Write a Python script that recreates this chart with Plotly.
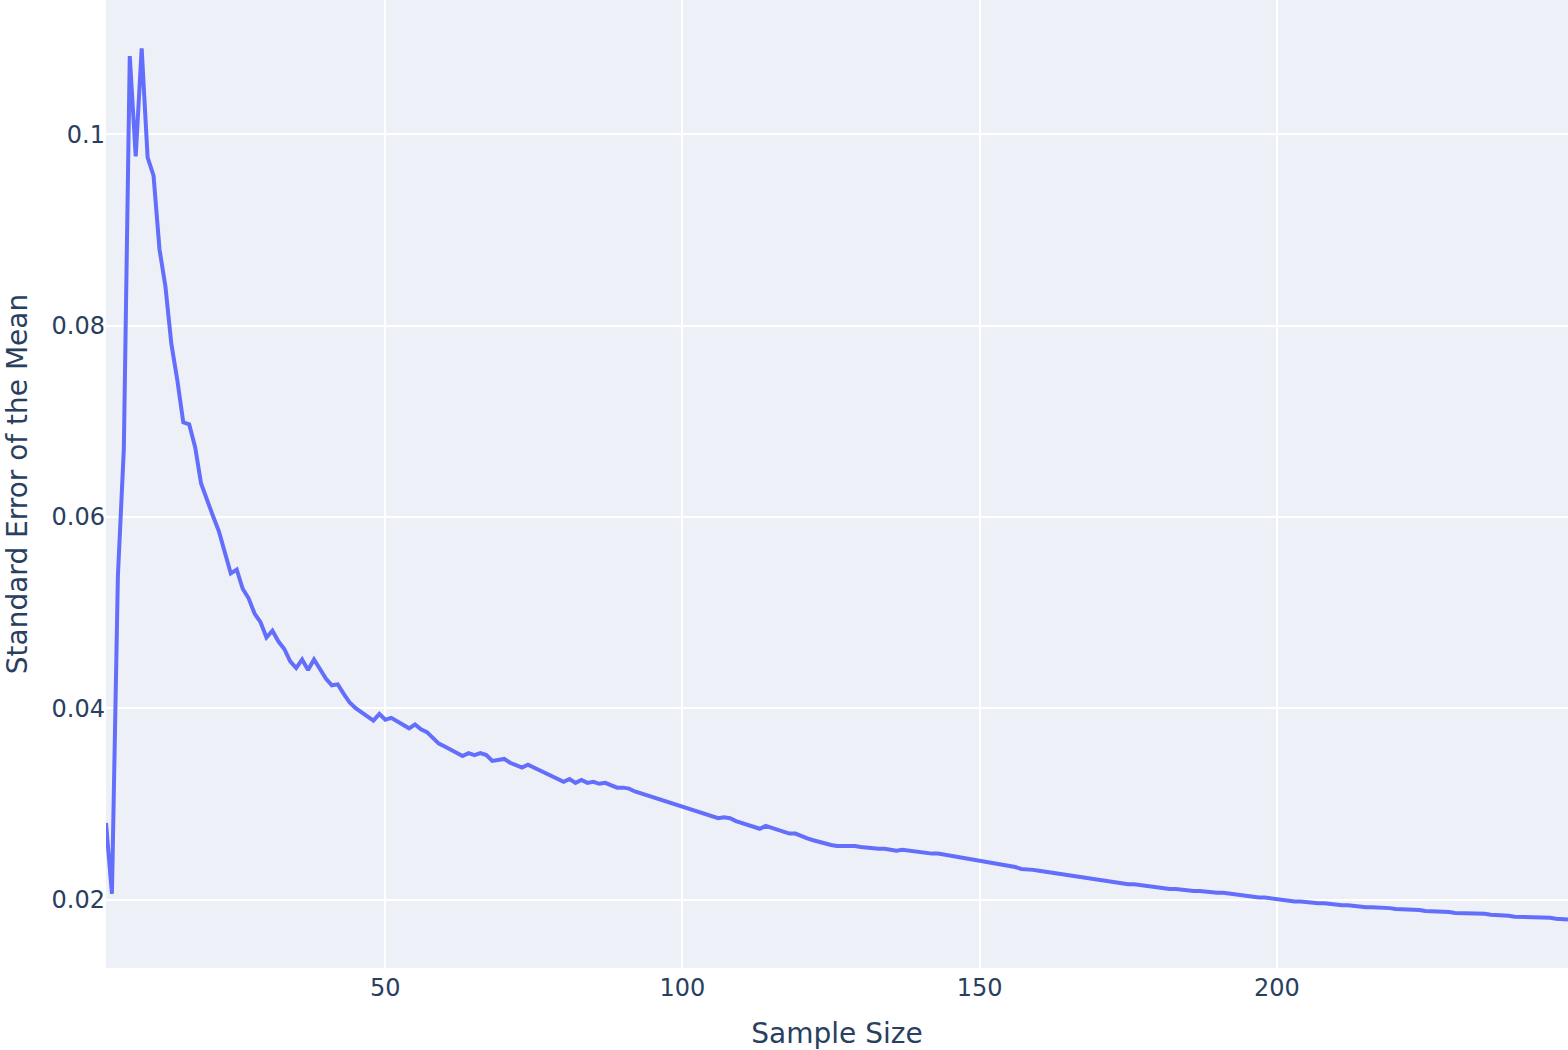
import plotly.graph_objects as go

sample_sizes = list(range(3, 250))

standard_errors = [
    0.0280, 0.0206, 0.0538, 0.0671, 0.1082, 0.0977, 0.1090, 0.0976, 0.0957, 0.0880,  # 3-12
    0.0841, 0.0781, 0.0743, 0.0699, 0.0697, 0.0673, 0.0635, 0.0617, 0.0601, 0.0585,  # 13-22
    0.0564, 0.0541, 0.0545, 0.0525, 0.0515, 0.0499, 0.0490, 0.0474, 0.0481, 0.0470,  # 23-32
    0.0462, 0.0449, 0.0442, 0.0451, 0.0440, 0.0451, 0.0441, 0.0431, 0.0424, 0.0425,  # 33-42
    0.0415, 0.0406, 0.0400, 0.0396, 0.0391, 0.0387, 0.0394, 0.0388, 0.0390, 0.0386,  # 43-52
    0.0383, 0.0379, 0.0383, 0.0378, 0.0375, 0.0369, 0.0363, 0.0360, 0.0357, 0.0353,  # 53-62
    0.0350, 0.0353, 0.0351, 0.0353, 0.0351, 0.0345, 0.0346, 0.0347, 0.0343, 0.0341,  # 63-72
    0.0338, 0.0341, 0.0338, 0.0336, 0.0333, 0.0329, 0.0326, 0.0323, 0.0326, 0.0322,  # 73-82
    0.0325, 0.0322, 0.0323, 0.0321, 0.0322, 0.0319, 0.0317, 0.0317, 0.0316, 0.0313,  # 83-92
    0.0311, 0.0309, 0.0307, 0.0305, 0.0303, 0.0300, 0.0298, 0.0297, 0.0295, 0.0293,  # 93-102
    0.0291, 0.0289, 0.0287, 0.0285, 0.0286, 0.0285, 0.0282, 0.0280, 0.0278, 0.0276,  # 103-112
    0.0274, 0.0277, 0.0275, 0.0272, 0.0271, 0.0269, 0.0269, 0.0266, 0.0264, 0.0262,  # 113-122
    0.0260, 0.0258, 0.0257, 0.0256, 0.0256, 0.0257, 0.0256, 0.0255, 0.0254, 0.0254,  # 123-132
    0.0253, 0.0253, 0.0252, 0.0251, 0.0252, 0.0251, 0.0250, 0.0249, 0.0248, 0.0248,  # 133-142
    0.0248, 0.0247, 0.0246, 0.0245, 0.0244, 0.0242, 0.0241, 0.0240, 0.0239, 0.0238,  # 143-152
    0.0237, 0.0236, 0.0235, 0.0234, 0.0232, 0.0232, 0.0231, 0.0230, 0.0229, 0.0229,  # 153-162
    0.0228, 0.0227, 0.0226, 0.0225, 0.0224, 0.0223, 0.0222, 0.0221, 0.0220, 0.0219,  # 163-172
    0.0218, 0.0217, 0.0216, 0.0216, 0.0215, 0.0214, 0.0214, 0.0213, 0.0212, 0.0211,  # 173-182
    0.0211, 0.0210, 0.0210, 0.0209, 0.0209, 0.0208, 0.0208, 0.0207, 0.0207, 0.0206,  # 183-192
    0.0205, 0.0204, 0.0204, 0.0203, 0.0202, 0.0202, 0.0201, 0.0200, 0.0200, 0.0199,  # 193-202
    0.0198, 0.0198, 0.0197, 0.0197, 0.0196, 0.0196, 0.0195, 0.0195, 0.0194, 0.0194,  # 203-212
    0.0193, 0.0193, 0.0192, 0.0192, 0.0192, 0.0191, 0.0191, 0.0190, 0.0190, 0.0190,  # 213-222
    0.0189, 0.0189, 0.0188, 0.0188, 0.0188, 0.0187, 0.0187, 0.0186, 0.0186, 0.0186,  # 223-232
    0.0185, 0.0185, 0.0185, 0.0184, 0.0184, 0.0183, 0.0183, 0.0182, 0.0182, 0.0182,  # 233-242
    0.0181, 0.0181, 0.0181, 0.0181, 0.0180, 0.0180, 0.0179,                          # 243-249
]

x_title = "Sample Size"
y_title = "Standard Error of the Mean"

fig = go.Figure(
    go.Scatter(
        x=sample_sizes,
        y=standard_errors,
        mode="lines",
        line=dict(color="#636efa", width=4),
    )
)

axis_common = dict(
    gridcolor="white",
    gridwidth=2,
    zeroline=False,
    automargin=False,
    tickfont=dict(size=24),
)

fig.update_layout(
    template="plotly",
    width=1568,
    height=1050,
    font=dict(family="DejaVu Sans", size=24, color="#2a3f5f"),
    plot_bgcolor="#EEF0F8",
    paper_bgcolor="white",
    margin=dict(l=106, r=0, t=0, b=82, autoexpand=False),
    showlegend=False,
    xaxis=dict(title=dict(text=x_title, font=dict(size=28), standoff=22),
               ticklabelstandoff=3, **axis_common),
    yaxis=dict(title=dict(text=y_title, font=dict(size=28)), **axis_common),
)

fig.write_html(
    "out.html",
    config={"displayModeBar": False},
    post_script="document.body.style.margin='0';document.body.style.overflow='hidden';",
)
